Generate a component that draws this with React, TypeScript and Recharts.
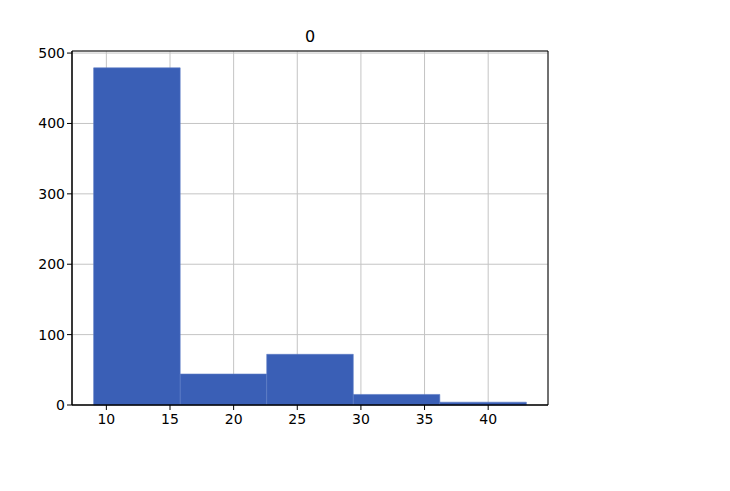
import {
  ComposedChart,
  XAxis,
  YAxis,
  CartesianGrid,
  ReferenceArea,
  Line,
} from "recharts";

// histogram bins (edges) and counts
const binStarts = [9.0, 15.8, 22.6, 29.4, 36.2];
const binEnds = [15.8, 22.6, 29.4, 36.2, 43.0];
const counts = [479, 44, 72, 15, 4];
const xTicks = [10, 15, 20, 25, 30, 35, 40];
const yTicks = [0, 100, 200, 300, 400, 500];
const title = "0";

const BAR_COLOR = "#3a5fb6";
const FONT = "DejaVu Sans, sans-serif";

const data = binStarts.map((s, i) => ({ x: (s + binEnds[i]) / 2, y: counts[i] }));

export default function App() {
  const span = binEnds[binEnds.length - 1] - binStarts[0];
  const xDomain = [binStarts[0] - span * 0.05, binEnds[binEnds.length - 1] + span * 0.05];
  const yDomain = [0, Math.max(...counts) * 1.05];

  return (
    <div style={{ position: "absolute", left: 0, top: 0, width: 730, height: 491, background: "#fff" }}>
      <div
        style={{
          position: "absolute",
          left: 72,
          width: 476,
          top: 27,
          textAlign: "center",
          fontFamily: FONT,
          fontSize: 16,
          color: "#000",
        }}
      >
        {title}
      </div>
      <ComposedChart
        width={730}
        height={491}
        data={data}
        margin={{ top: 51, right: 182, bottom: 56, left: 32 }}
      >
        {binStarts.map((s, i) => (
          <ReferenceArea
            key={i}
            x1={s}
            x2={binEnds[i]}
            y1={0}
            y2={counts[i]}
            fill={BAR_COLOR}
            fillOpacity={1}
            stroke="#5b7bc4"
            strokeWidth={0.6}
            ifOverflow="visible"
          />
        ))}
        <CartesianGrid stroke="#c4c4c4" strokeWidth={1} />
        {/* axes frame (matplotlib spines) */}
        <ReferenceArea
          x1={xDomain[0]}
          x2={xDomain[1]}
          y1={yDomain[0]}
          y2={yDomain[1]}
          fill="none"
          stroke="#000"
          strokeWidth={1}
          ifOverflow="visible"
        />
        <XAxis
          dataKey="x"
          type="number"
          domain={xDomain}
          ticks={xTicks}
          allowDataOverflow
          height={30}
          axisLine={{ stroke: "#000", strokeWidth: 1 }}
          tickLine={{ stroke: "#000" }}
          tickSize={5}
          tickMargin={4}
          tick={{ fill: "#000", fontSize: 14, fontFamily: FONT }}
        />
        <YAxis
          type="number"
          domain={yDomain}
          ticks={yTicks}
          allowDataOverflow
          width={40}
          axisLine={{ stroke: "#000", strokeWidth: 1 }}
          tickLine={{ stroke: "#000" }}
          tickSize={5}
          tick={{ fill: "#000", fontSize: 14, fontFamily: FONT }}
        />
        <Line dataKey="y" stroke="none" dot={false} activeDot={false} isAnimationActive={false} />
      </ComposedChart>
    </div>
  );
}
